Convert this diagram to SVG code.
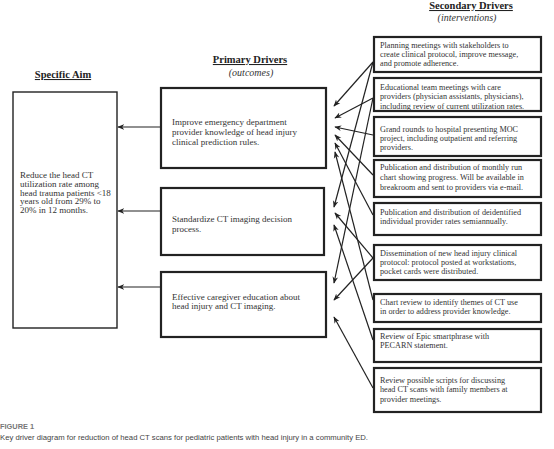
<svg xmlns="http://www.w3.org/2000/svg" width="554" height="449" viewBox="0 0 554 449">
<defs>
<marker id="ah" viewBox="0 0 10 10" refX="9" refY="5" markerWidth="7" markerHeight="7" orient="auto" markerUnits="userSpaceOnUse">
<path d="M0,1 L10,5 L0,9 L3,5 Z" fill="#222"/>
</marker>
<style>
.title{font-family:"Liberation Serif",serif;font-weight:bold;font-size:10.5px;fill:#222;text-decoration:underline}
.sub{font-family:"Liberation Serif",serif;font-style:italic;font-size:10px;fill:#333}
.box{fill:#fff;stroke:#222;stroke-width:2.2}
.aim{fill:#fff;stroke:#222;stroke-width:1.4}
.t{font-family:"Liberation Serif",serif;font-size:8.2px;fill:#333}
.tp{font-family:"Liberation Serif",serif;font-size:9px;fill:#333}
.c{stroke:#222;stroke-width:1.2;fill:none;marker-end:url(#ah)}
.cap1{font-family:"Liberation Sans",sans-serif;font-weight:bold;font-size:7.4px;fill:#777}
.cap2{font-family:"Liberation Sans",sans-serif;font-size:6.6px;fill:#444}
</style>
</defs>
<rect width="554" height="449" fill="#fff"/>
<g id="titles">
<text class="title" x="63" y="78" text-anchor="middle">Specific Aim</text>
<text class="title" x="250" y="63" text-anchor="middle">Primary Drivers</text>
<text class="sub" x="251" y="76" text-anchor="middle">(outcomes)</text>
<text class="title" x="471" y="9" text-anchor="middle">Secondary Drivers</text>
<text class="sub" x="467" y="21" text-anchor="middle">(interventions)</text>
</g>
<g id="connectors">
<line class="c" x1="160" y1="127" x2="118" y2="127"/>
<line class="c" x1="160" y1="211" x2="118" y2="211"/>
<line class="c" x1="160" y1="287" x2="118" y2="287"/>
<line class="c" x1="373" y1="62" x2="334" y2="106"/>
<line class="c" x1="373" y1="62" x2="334" y2="207"/>
<line class="c" x1="373" y1="98" x2="335" y2="118"/>
<line class="c" x1="373" y1="98" x2="334" y2="283"/>
<line class="c" x1="373" y1="135" x2="335" y2="127"/>
<line class="c" x1="373" y1="175" x2="335" y2="135"/>
<line class="c" x1="373" y1="215" x2="335" y2="143"/>
<line class="c" x1="373" y1="258" x2="335" y2="213"/>
<line class="c" x1="373" y1="258" x2="334" y2="300"/>
<line class="c" x1="373" y1="300" x2="335" y2="152"/>
<line class="c" x1="373" y1="340" x2="334" y2="225"/>
<line class="c" x1="373" y1="388" x2="334" y2="317"/>
</g>
<g id="aim">
<rect class="aim" x="13" y="92" width="104" height="236"/>
<text class="tp" font-size="8.6" x="20" y="178">Reduce the head CT</text>
<text class="tp" x="20" y="187" font-size="8.6">utilization rate among</text>
<text class="tp" x="20" y="195.5" font-size="8.6">head trauma patients &lt;18</text>
<text class="tp" x="20" y="204" font-size="8.6">years old from 29% to</text>
<text class="tp" x="20" y="212.5" font-size="8.6">20% in 12 months.</text>
</g>
<g id="p1">
<rect class="box" x="161" y="88" width="165" height="80"/>
<text class="tp" x="172" y="125">Improve emergency department</text>
<text class="tp" x="172" y="135">provider knowledge of head injury</text>
<text class="tp" x="172" y="145">clinical prediction rules.</text>
</g>
<g id="p2">
<rect class="box" x="161" y="188" width="163" height="67"/>
<text class="tp" x="172" y="222">Standardize CT imaging decision</text>
<text class="tp" x="172" y="232">process.</text>
</g>
<g id="p3">
<rect class="box" x="161" y="272" width="165" height="65"/>
<text class="tp" x="172" y="300">Effective caregiver education about</text>
<text class="tp" x="172" y="309">head injury and CT imaging.</text>
</g>
<g id="sA">
<rect class="box" x="374" y="37" width="167" height="35"/>
<text class="t" x="380" y="48">Planning meetings with stakeholders to</text>
<text class="t" x="380" y="57">create clinical protocol, improve message,</text>
<text class="t" x="380" y="66">and promote adherence.</text>
</g>
<g id="sB">
<rect class="box" x="374" y="78" width="167" height="33"/>
<text class="t" x="380" y="89.5">Educational team meetings with care</text>
<text class="t" x="380" y="99">providers (physician assistants, physicians),</text>
<text class="t" x="380" y="108.5">including review of current utilization rates.</text>
</g>
<g id="sC">
<rect class="box" x="374" y="117" width="167" height="39"/>
<text class="t" x="380" y="131.5">Grand rounds to hospital presenting MOC</text>
<text class="t" x="380" y="140.5">project, including outpatient and referring</text>
<text class="t" x="380" y="150">providers.</text>
</g>
<g id="sD">
<rect class="box" x="374" y="160" width="167" height="37"/>
<text class="t" x="380" y="170">Publication and distribution of monthly run</text>
<text class="t" x="380" y="180">chart showing progress.  Will be available in</text>
<text class="t" x="380" y="190">breakroom and sent to providers via e-mail.</text>
</g>
<g id="sE">
<rect class="box" x="374" y="203" width="167" height="32"/>
<text class="t" x="380" y="214.5">Publication and distribution of deidentified</text>
<text class="t" x="380" y="224">individual provider rates semiannually.</text>
</g>
<g id="sF">
<rect class="box" x="374" y="245" width="167" height="35"/>
<text class="t" x="380" y="256">Dissemination of new head injury clinical</text>
<text class="t" x="380" y="265">protocol: protocol posted at workstations,</text>
<text class="t" x="380" y="274">pocket cards were distributed.</text>
</g>
<g id="sG">
<rect class="box" x="374" y="294" width="167" height="28"/>
<text class="t" x="380" y="304.5">Chart review to identify themes of CT use</text>
<text class="t" x="380" y="313.5">in order to address provider knowledge.</text>
</g>
<g id="sH">
<rect class="box" x="374" y="329" width="167" height="33"/>
<text class="t" x="380" y="338.5">Review of Epic smartphrase with</text>
<text class="t" x="380" y="347.5">PECARN statement.</text>
</g>
<g id="sI">
<rect class="box" x="374" y="368" width="167" height="44"/>
<text class="t" x="380" y="383">Review possible scripts for discussing</text>
<text class="t" x="380" y="392">head CT scans with family members at</text>
<text class="t" x="380" y="401.5">provider meetings.</text>
</g>
<g id="caption">
<text class="cap1" x="0" y="429">FIGURE 1</text>
<text class="cap2" x="0" y="440" textLength="368" lengthAdjust="spacingAndGlyphs">Key driver diagram for reduction of head CT scans for pediatric patients with head injury in a community ED.</text>
</g>
</svg>
